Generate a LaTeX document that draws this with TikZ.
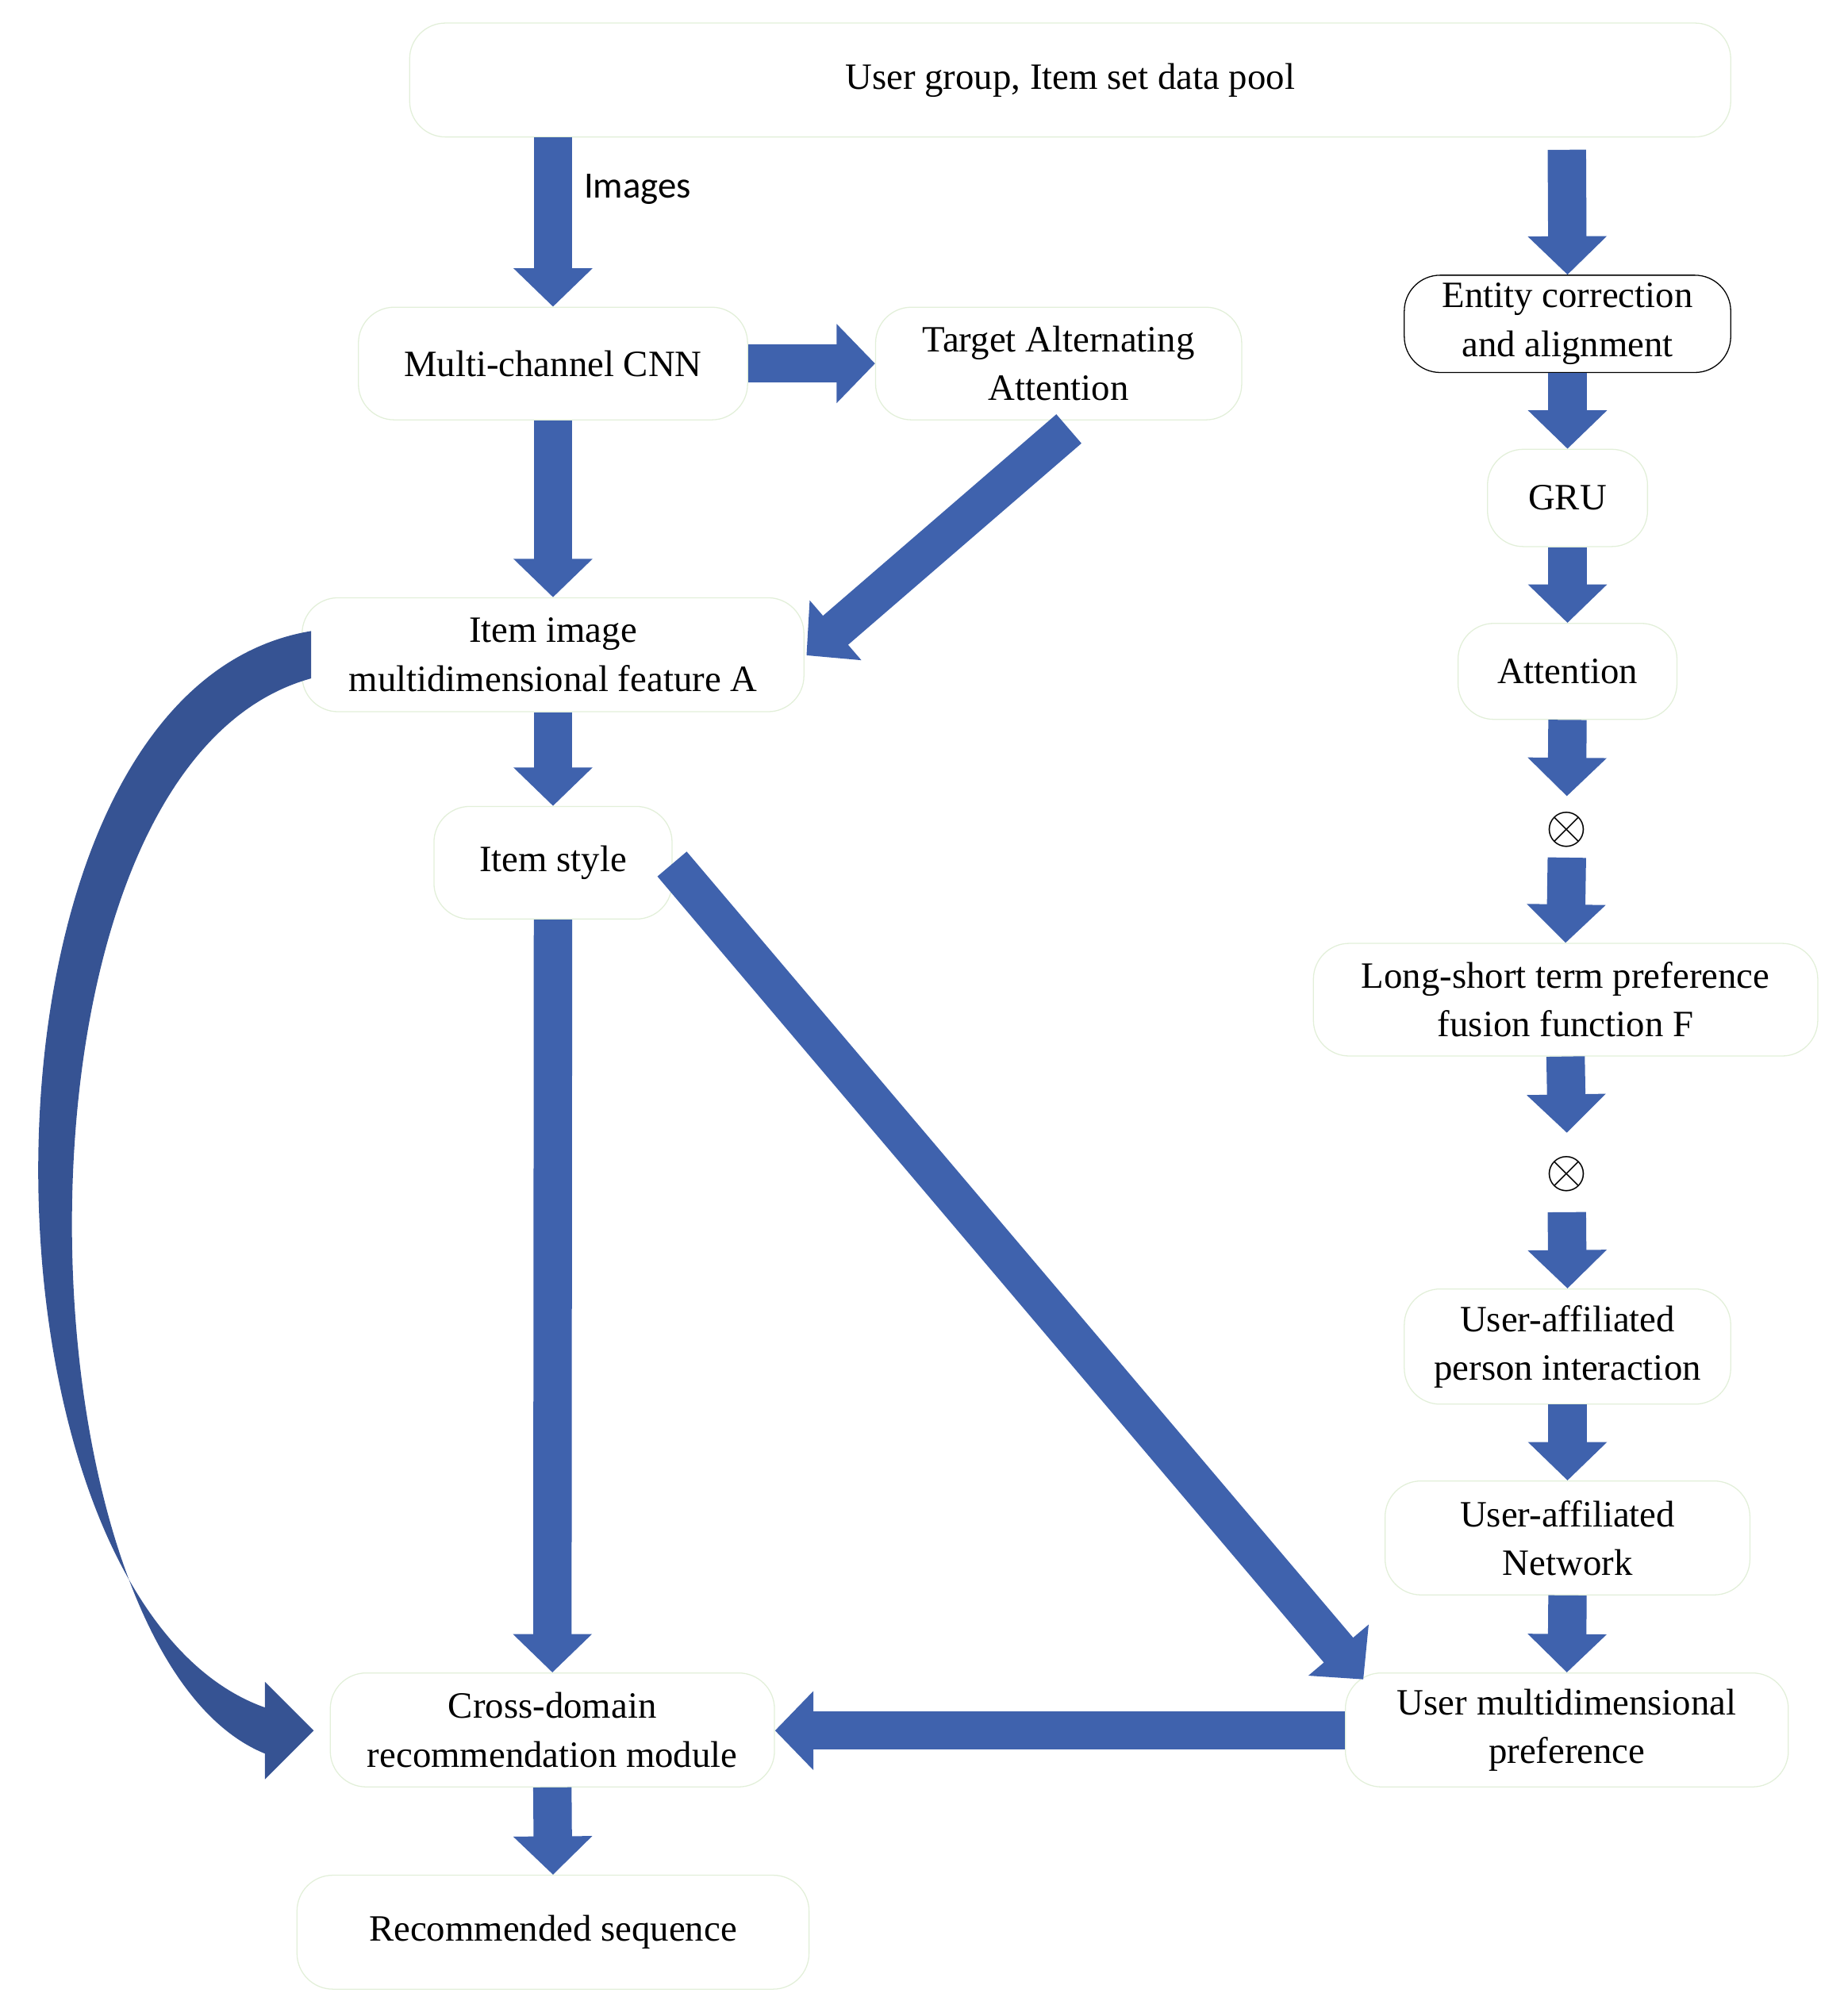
\documentclass[tikz,border=0pt]{standalone}
\usepackage{fontspec}
\setmainfont{Liberation Serif}
\newfontfamily\sansf{Carlito}
\usetikzlibrary{arrows.meta}
\definecolor{ab}{HTML}{3F62AD}
\definecolor{bx}{HTML}{E2EFD9}
\begin{document}
\begin{tikzpicture}[x=0.5pt,y=-0.5pt,
 box/.style={draw=bx,rounded corners=14pt,align=center,inner sep=0pt,font=\fontsize{14.5}{19}\selectfont},
 fat/.style={ab,line width=15pt,-{Triangle[width=30pt,length=15pt]}}]
\useasboundingbox (0,0) rectangle (1440,1575);
\newcommand\bx[6]{\node[box,minimum width=#3*0.5pt-#2*0.5pt,minimum height=#5*0.5pt-#4*0.5pt,#6] (#1) at ({(#2+#3)/2},{(#4+#5)/2})}
\bx{pool}{320}{1352}{18}{107}{}{User group, Item set data pool};
\bx{cnn}{280}{584}{240}{328}{}{Multi-channel CNN};
\bx{taa}{684}{970}{240}{328}{}{Target Alternating\\Attention};
\bx{iim}{236}{628}{467}{556}{}{Item image\\multidimensional feature A};
\bx{sty}{339}{525}{630}{718}{}{Item style};
\bx{cdr}{258}{605}{1307}{1396}{}{Cross-domain\\recommendation module};
\bx{rec}{232}{632}{1465}{1554}{}{Recommended sequence};
\bx{ent}{1097}{1352}{215}{291}{draw=black}{Entity correction\\and alignment};
\bx{gru}{1162}{1287}{351}{427}{}{GRU};
\bx{att}{1139}{1310}{487}{562}{}{Attention};
\bx{lst}{1026}{1420}{737}{825}{}{Long-short term preference\\fusion function F};
\bx{uap}{1097}{1352}{1007}{1097}{}{User-affiliated\\person interaction};
\bx{uan}{1082}{1367}{1157}{1246}{}{User-affiliated\\Network};
\bx{ump}{1051}{1397}{1307}{1396}{}{User multidimensional\\preference};
\node[font=\fontsize{20}{20}\selectfont] (o1) at (1224,648) {$\otimes$};
\node[font=\fontsize{20}{20}\selectfont] (o2) at (1224,917) {$\otimes$};
\node[font=\sansf\fontsize{14.5}{17}\selectfont] (img) at (498,148) {Images};
\draw[fat] (432,107) -- (cnn.north-|432,0);
\draw[fat] (cnn.east) -- (taa.west);
\draw[fat] (835,335) -- (630,512);
\draw[fat] (cnn.south) -- (iim.north);
\draw[fat] (iim.south) -- (sty.north);
\draw[fat] (sty.south) -- (cdr.north);
\draw[fat] (525,675) -- (1065,1312);
\draw[fat] (cdr.south) -- (rec.north);
\draw[fat] (1224,117) -- (ent.north);
\draw[fat] (ent.south) -- (gru.north);
\draw[fat] (gru.south) -- (att.north);
\draw[fat] (att.south) -- (1224,622);
\draw[fat] (1224,670) -- (lst.north);
\draw[fat] (lst.south) -- (1224,885);
\draw[fat] (1224,947) -- (uap.north);
\draw[fat] (uap.south) -- (uan.north);
\draw[fat] (uan.south) -- (ump.north);
\draw[fat] (ump.west|-0,1352) -- (cdr.east|-0,1352);
\fill[ab!85!black] (243,493) .. controls (-40,540) and (-30,1250) .. (207,1334)
 -- (207,1314) -- (245,1352) -- (207,1390) -- (207,1370)
 .. controls (10,1290) and (-10,600) .. (243,530) -- cycle;
\end{tikzpicture}
\end{document}
